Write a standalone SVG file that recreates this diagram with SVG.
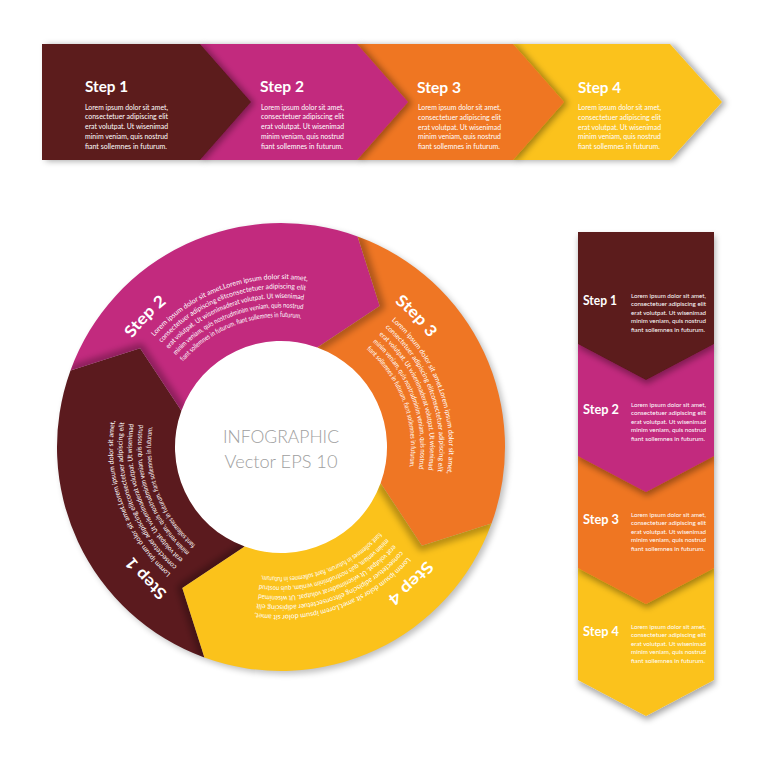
<svg xmlns="http://www.w3.org/2000/svg" xmlns:xlink="http://www.w3.org/1999/xlink" width="768" height="768" viewBox="0 0 768 768">
<style>
.c1{fill:#5b1a1e}.c2{fill:#c22a7e}.c3{fill:#ef7624}.c4{fill:#fbc21b}
.lb{font-family:Lato,"Liberation Sans",sans-serif;font-weight:700;fill:#fff}
.tx{font-family:Lato,"Liberation Sans",sans-serif;font-weight:400;fill:#fff}
.hl{font-size:16px}.ht{font-size:7px}
.vl{font-size:14px}.vt{font-size:6.3px}
.rl{font-size:16px}.rt{font-size:7px}
.ctr{font-family:Lato,"Liberation Sans",sans-serif;font-weight:300;font-size:17px;fill:#9e9e9e;text-anchor:middle}
.sh{fill:none;stroke:#000;stroke-width:10;stroke-opacity:0.28;stroke-linejoin:round}
</style>
<defs>
<filter id="dsx" x="-20%" y="-20%" width="150%" height="150%"><feDropShadow dx="4" dy="1" stdDeviation="3" flood-color="#000" flood-opacity="0.35"/></filter>
<filter id="dsy" x="-20%" y="-20%" width="150%" height="150%"><feDropShadow dx="1" dy="4" stdDeviation="3" flood-color="#000" flood-opacity="0.35"/></filter>
<filter id="bl" x="-20%" y="-20%" width="140%" height="140%"><feGaussianBlur stdDeviation="3"/></filter>
<path id="seg1" d="M204.4 657.5 A224 224 0 0 1 70.5 370.4 L140.1 348.3 L181.4 410.7 A106 106 0 0 0 244.7 546.6 L182.3 587.9 Z"/>
<path id="seg2" d="M70.5 370.4 A224 224 0 0 1 357.6 236.5 L379.7 306.1 L317.3 347.4 A106 106 0 0 0 181.4 410.7 L140.1 348.3 Z"/>
<path id="seg3" d="M357.6 236.5 A224 224 0 0 1 491.5 523.6 L421.9 545.7 L380.6 483.3 A106 106 0 0 0 317.3 347.4 L379.7 306.1 Z"/>
<path id="seg4" d="M491.5 523.6 A224 224 0 0 1 204.4 657.5 L182.3 587.9 L244.7 546.6 A106 106 0 0 0 380.6 483.3 L421.9 545.7 Z"/>
<clipPath id="cl1"><use xlink:href="#seg1" href="#seg1"/></clipPath>
<clipPath id="cl2"><use xlink:href="#seg2" href="#seg2"/></clipPath>
<clipPath id="cl3"><use xlink:href="#seg3" href="#seg3"/></clipPath>
<clipPath id="cl4"><use xlink:href="#seg4" href="#seg4"/></clipPath>
<path id="r184" d="M465 447 A184 184 0 0 1 97 447 A184 184 0 0 1 465 447 A184 184 0 0 1 97 447 A184 184 0 0 1 465 447"/>
<path id="r168" d="M449 447 A168 168 0 0 1 113 447 A168 168 0 0 1 449 447 A168 168 0 0 1 113 447 A168 168 0 0 1 449 447"/>
<path id="r158" d="M439.5 447 A158.5 158.5 0 0 1 122.5 447 A158.5 158.5 0 0 1 439.5 447 A158.5 158.5 0 0 1 122.5 447 A158.5 158.5 0 0 1 439.5 447"/>
<path id="r149" d="M430 447 A149 149 0 0 1 132 447 A149 149 0 0 1 430 447 A149 149 0 0 1 132 447 A149 149 0 0 1 430 447"/>
<path id="r139" d="M420.5 447 A139.5 139.5 0 0 1 141.5 447 A139.5 139.5 0 0 1 420.5 447 A139.5 139.5 0 0 1 141.5 447 A139.5 139.5 0 0 1 420.5 447"/>
<path id="r130" d="M411 447 A130 130 0 0 1 151 447 A130 130 0 0 1 411 447 A130 130 0 0 1 151 447 A130 130 0 0 1 411 447"/>
</defs>
<rect width="768" height="768" fill="#fff"/>

<!-- Horizontal banner (drawn right to left so each tip shadows the next) -->
<g id="top-step4" filter="url(#dsx)">
<path class="c4" d="M513 44 H670 L722 102 L670 160 H513 Z"/>
</g>
<g id="top-step3" filter="url(#dsx)">
<path class="c3" d="M357 44 H513 L564 102 L513 160 H357 Z"/>
</g>
<g id="top-step2" filter="url(#dsx)">
<path class="c2" d="M200 44 H357 L408 102 L357 160 H200 Z"/>
</g>
<g id="top-step1" filter="url(#dsx)">
<path class="c1" d="M42 44 H200 L251 102 L200 160 H42 Z"/>
</g>
<g id="top-texts">
<g id="top-step1-text">
<text class="lb hl" x="85" y="92" textLength="43" lengthAdjust="spacingAndGlyphs">Step 1</text>
<text class="tx ht" x="85" y="109.5" textLength="83" lengthAdjust="spacingAndGlyphs">Lorem ipsum dolor sit amet,</text>
<text class="tx ht" x="85" y="119.2" textLength="83" lengthAdjust="spacingAndGlyphs">consectetuer adipiscing elit</text>
<text class="tx ht" x="85" y="129" textLength="83" lengthAdjust="spacingAndGlyphs">erat volutpat. Ut wisenimad</text>
<text class="tx ht" x="85" y="138.7" textLength="83" lengthAdjust="spacingAndGlyphs">minim veniam, quis nostrud</text>
<text class="tx ht" x="85" y="148.5" textLength="82" lengthAdjust="spacingAndGlyphs">fiant sollemnes in futurum.</text>
</g>
<g id="top-step2-text">
<text class="lb hl" x="260" y="92" textLength="44" lengthAdjust="spacingAndGlyphs">Step 2</text>
<text class="tx ht" x="261" y="109.5" textLength="83" lengthAdjust="spacingAndGlyphs">Lorem ipsum dolor sit amet,</text>
<text class="tx ht" x="261" y="119.2" textLength="83" lengthAdjust="spacingAndGlyphs">consectetuer adipiscing elit</text>
<text class="tx ht" x="261" y="129" textLength="83" lengthAdjust="spacingAndGlyphs">erat volutpat. Ut wisenimad</text>
<text class="tx ht" x="261" y="138.7" textLength="83" lengthAdjust="spacingAndGlyphs">minim veniam, quis nostrud</text>
<text class="tx ht" x="261" y="148.5" textLength="82" lengthAdjust="spacingAndGlyphs">fiant sollemnes in futurum.</text>
</g>
<g id="top-step3-text">
<text class="lb hl" x="417" y="93" textLength="44" lengthAdjust="spacingAndGlyphs">Step 3</text>
<text class="tx ht" x="418" y="110" textLength="83" lengthAdjust="spacingAndGlyphs">Lorem ipsum dolor sit amet,</text>
<text class="tx ht" x="418" y="119.7" textLength="83" lengthAdjust="spacingAndGlyphs">consectetuer adipiscing elit</text>
<text class="tx ht" x="418" y="129.5" textLength="83" lengthAdjust="spacingAndGlyphs">erat volutpat. Ut wisenimad</text>
<text class="tx ht" x="418" y="139.2" textLength="83" lengthAdjust="spacingAndGlyphs">minim veniam, quis nostrud</text>
<text class="tx ht" x="418" y="149" textLength="82" lengthAdjust="spacingAndGlyphs">fiant sollemnes in futurum.</text>
</g>
<g id="top-step4-text">
<text class="lb hl" x="578" y="93" textLength="43" lengthAdjust="spacingAndGlyphs">Step 4</text>
<text class="tx ht" x="578" y="110" textLength="83" lengthAdjust="spacingAndGlyphs">Lorem ipsum dolor sit amet,</text>
<text class="tx ht" x="578" y="119.7" textLength="83" lengthAdjust="spacingAndGlyphs">consectetuer adipiscing elit</text>
<text class="tx ht" x="578" y="129.5" textLength="83" lengthAdjust="spacingAndGlyphs">erat volutpat. Ut wisenimad</text>
<text class="tx ht" x="578" y="139.2" textLength="83" lengthAdjust="spacingAndGlyphs">minim veniam, quis nostrud</text>
<text class="tx ht" x="578" y="149" textLength="82" lengthAdjust="spacingAndGlyphs">fiant sollemnes in futurum.</text>
</g>
</g>

<!-- Ring -->
<circle cx="284" cy="450" r="224" fill="#000" opacity="0.25" filter="url(#bl)"/>
<circle cx="281" cy="447" r="107" fill="#fff"/>
<g id="ring-step1"><use class="c1" xlink:href="#seg1" href="#seg1"/></g>
<g id="ring-step2"><use class="c2" xlink:href="#seg2" href="#seg2"/></g>
<g id="ring-step3"><use class="c3" xlink:href="#seg3" href="#seg3"/></g>
<g id="ring-step4"><use class="c4" xlink:href="#seg4" href="#seg4"/></g>
<g id="ring-shadows">
<g clip-path="url(#cl2)"><polyline class="sh" filter="url(#bl)" points="70.5,370.4 140.1,348.3 181.4,410.7"/></g>
<g clip-path="url(#cl3)"><polyline class="sh" filter="url(#bl)" points="357.6,236.5 379.7,306.1 317.3,347.4"/></g>
<g clip-path="url(#cl4)"><polyline class="sh" filter="url(#bl)" points="491.5,523.6 421.9,545.7 380.6,483.3"/></g>
<g clip-path="url(#cl1)"><polyline class="sh" filter="url(#bl)" points="204.4,657.5 182.3,587.9 244.7,546.6"/></g>
</g>
<g id="ring-step1-text">
<text class="lb rl"><textPath xlink:href="#r184" href="#r184" startOffset="411" textLength="50" lengthAdjust="spacingAndGlyphs">Step 1</textPath></text>
<text class="tx rt"><textPath xlink:href="#r168" href="#r168" startOffset="384.1" textLength="170" lengthAdjust="spacingAndGlyphs">Lorem ipsum dolor sit amet,Lorem ipsum dolor sit amet,</textPath></text>
<text class="tx rt"><textPath xlink:href="#r158" href="#r158" startOffset="362.4" textLength="160" lengthAdjust="spacingAndGlyphs">consectetuer adipiscing elitconsectetuer adipiscing elit</textPath></text>
<text class="tx rt"><textPath xlink:href="#r149" href="#r149" startOffset="340.7" textLength="150" lengthAdjust="spacingAndGlyphs">erat volutpat. Ut wisenimaderat volutpat. Ut wisenimad</textPath></text>
<text class="tx rt"><textPath xlink:href="#r139" href="#r139" startOffset="318.9" textLength="141" lengthAdjust="spacingAndGlyphs">minim veniam, quis nostrudminim veniam, quis nostrud</textPath></text>
<text class="tx rt"><textPath xlink:href="#r130" href="#r130" startOffset="297.2" textLength="131" lengthAdjust="spacingAndGlyphs">fiant sollemnes in futurum. fiant sollemnes in futurum.</textPath></text>
</g>
<g id="ring-step2-text">
<text class="lb rl"><textPath xlink:href="#r184" href="#r184" startOffset="693.7" textLength="50" lengthAdjust="spacingAndGlyphs">Step 2</textPath></text>
<text class="tx rt"><textPath xlink:href="#r168" href="#r168" startOffset="648" textLength="170" lengthAdjust="spacingAndGlyphs">Lorem ipsum dolor sit amet,Lorem ipsum dolor sit amet,</textPath></text>
<text class="tx rt"><textPath xlink:href="#r158" href="#r158" startOffset="611.4" textLength="160" lengthAdjust="spacingAndGlyphs">consectetuer adipiscing elitconsectetuer adipiscing elit</textPath></text>
<text class="tx rt"><textPath xlink:href="#r149" href="#r149" startOffset="574.7" textLength="150" lengthAdjust="spacingAndGlyphs">erat volutpat. Ut wisenimaderat volutpat. Ut wisenimad</textPath></text>
<text class="tx rt"><textPath xlink:href="#r139" href="#r139" startOffset="538.1" textLength="141" lengthAdjust="spacingAndGlyphs">minim veniam, quis nostrudminim veniam, quis nostrud</textPath></text>
<text class="tx rt"><textPath xlink:href="#r130" href="#r130" startOffset="501.4" textLength="131" lengthAdjust="spacingAndGlyphs">fiant sollemnes in futurum. fiant sollemnes in futurum.</textPath></text>
</g>
<g id="ring-step3-text">
<text class="lb rl"><textPath xlink:href="#r184" href="#r184" startOffset="989.1" textLength="50" lengthAdjust="spacingAndGlyphs">Step 3</textPath></text>
<text class="tx rt"><textPath xlink:href="#r168" href="#r168" startOffset="911.9" textLength="170" lengthAdjust="spacingAndGlyphs">Lorem ipsum dolor sit amet,Lorem ipsum dolor sit amet,</textPath></text>
<text class="tx rt"><textPath xlink:href="#r158" href="#r158" startOffset="860.3" textLength="160" lengthAdjust="spacingAndGlyphs">consectetuer adipiscing elitconsectetuer adipiscing elit</textPath></text>
<text class="tx rt"><textPath xlink:href="#r149" href="#r149" startOffset="808.8" textLength="150" lengthAdjust="spacingAndGlyphs">erat volutpat. Ut wisenimaderat volutpat. Ut wisenimad</textPath></text>
<text class="tx rt"><textPath xlink:href="#r139" href="#r139" startOffset="757.2" textLength="141" lengthAdjust="spacingAndGlyphs">minim veniam, quis nostrudminim veniam, quis nostrud</textPath></text>
<text class="tx rt"><textPath xlink:href="#r130" href="#r130" startOffset="705.6" textLength="131" lengthAdjust="spacingAndGlyphs">fiant sollemnes in futurum. fiant sollemnes in futurum.</textPath></text>
</g>
<g id="ring-step4-text">
<text class="lb rl"><textPath xlink:href="#r184" href="#r184" startOffset="122" textLength="54" lengthAdjust="spacingAndGlyphs">Step 4</textPath></text>
<text class="tx rt"><textPath xlink:href="#r168" href="#r168" startOffset="120.2" textLength="170" lengthAdjust="spacingAndGlyphs">Lorem ipsum dolor sit amet,Lorem ipsum dolor sit amet,</textPath></text>
<text class="tx rt"><textPath xlink:href="#r158" href="#r158" startOffset="113.4" textLength="160" lengthAdjust="spacingAndGlyphs">consectetuer adipiscing elitconsectetuer adipiscing elit</textPath></text>
<text class="tx rt"><textPath xlink:href="#r149" href="#r149" startOffset="106.6" textLength="150" lengthAdjust="spacingAndGlyphs">erat volutpat. Ut wisenimaderat volutpat. Ut wisenimad</textPath></text>
<text class="tx rt"><textPath xlink:href="#r139" href="#r139" startOffset="99.8" textLength="141" lengthAdjust="spacingAndGlyphs">minim veniam, quis nostrudminim veniam, quis nostrud</textPath></text>
<text class="tx rt"><textPath xlink:href="#r130" href="#r130" startOffset="93" textLength="131" lengthAdjust="spacingAndGlyphs">fiant sollemnes in futurum. fiant sollemnes in futurum.</textPath></text>
</g>
<g id="center-label">
<text class="ctr" x="281" y="443" textLength="116" lengthAdjust="spacingAndGlyphs">INFOGRAPHIC</text>
<text class="ctr" x="281" y="468" textLength="113" lengthAdjust="spacingAndGlyphs">Vector EPS 10</text>
</g>

<!-- Vertical banner (drawn bottom to top so each tip shadows the next) -->
<g id="side-step4" filter="url(#dsy)">
<path class="c4" d="M578 568 H714 V680 L646 716 L578 680 Z"/>
</g>
<g id="side-step3" filter="url(#dsy)">
<path class="c3" d="M578 456 H714 V568 L646 604 L578 568 Z"/>
</g>
<g id="side-step2" filter="url(#dsy)">
<path class="c2" d="M578 344 H714 V456 L646 492 L578 456 Z"/>
</g>
<g id="side-step1" filter="url(#dsy)">
<path class="c1" d="M578 232 H714 V344 L646 380 L578 344 Z"/>
</g>
<g id="side-texts">
<g id="side-step1-text">
<text class="lb vl" x="583" y="305" textLength="34" lengthAdjust="spacingAndGlyphs">Step 1</text>
<text class="tx vt" x="631" y="298" textLength="75" lengthAdjust="spacingAndGlyphs">Lorem ipsum dolor sit amet,</text>
<text class="tx vt" x="631" y="306.4" textLength="75" lengthAdjust="spacingAndGlyphs">consectetuer adipiscing elit</text>
<text class="tx vt" x="631" y="314.8" textLength="75" lengthAdjust="spacingAndGlyphs">erat volutpat. Ut wisenimad</text>
<text class="tx vt" x="631" y="323.2" textLength="75" lengthAdjust="spacingAndGlyphs">minim veniam, quis nostrud</text>
<text class="tx vt" x="631" y="331.6" textLength="74" lengthAdjust="spacingAndGlyphs">fiant sollemnes in futurum.</text>
</g>
<g id="side-step2-text">
<text class="lb vl" x="583" y="414" textLength="36" lengthAdjust="spacingAndGlyphs">Step 2</text>
<text class="tx vt" x="631" y="407" textLength="75" lengthAdjust="spacingAndGlyphs">Lorem ipsum dolor sit amet,</text>
<text class="tx vt" x="631" y="415.4" textLength="75" lengthAdjust="spacingAndGlyphs">consectetuer adipiscing elit</text>
<text class="tx vt" x="631" y="423.8" textLength="75" lengthAdjust="spacingAndGlyphs">erat volutpat. Ut wisenimad</text>
<text class="tx vt" x="631" y="432.2" textLength="75" lengthAdjust="spacingAndGlyphs">minim veniam, quis nostrud</text>
<text class="tx vt" x="631" y="440.6" textLength="74" lengthAdjust="spacingAndGlyphs">fiant sollemnes in futurum.</text>
</g>
<g id="side-step3-text">
<text class="lb vl" x="583" y="524" textLength="36" lengthAdjust="spacingAndGlyphs">Step 3</text>
<text class="tx vt" x="631" y="517" textLength="75" lengthAdjust="spacingAndGlyphs">Lorem ipsum dolor sit amet,</text>
<text class="tx vt" x="631" y="525.4" textLength="75" lengthAdjust="spacingAndGlyphs">consectetuer adipiscing elit</text>
<text class="tx vt" x="631" y="533.8" textLength="75" lengthAdjust="spacingAndGlyphs">erat volutpat. Ut wisenimad</text>
<text class="tx vt" x="631" y="542.2" textLength="75" lengthAdjust="spacingAndGlyphs">minim veniam, quis nostrud</text>
<text class="tx vt" x="631" y="550.6" textLength="74" lengthAdjust="spacingAndGlyphs">fiant sollemnes in futurum.</text>
</g>
<g id="side-step4-text">
<text class="lb vl" x="583" y="636" textLength="36" lengthAdjust="spacingAndGlyphs">Step 4</text>
<text class="tx vt" x="631" y="628.5" textLength="75" lengthAdjust="spacingAndGlyphs">Lorem ipsum dolor sit amet,</text>
<text class="tx vt" x="631" y="637.1" textLength="75" lengthAdjust="spacingAndGlyphs">consectetuer adipiscing elit</text>
<text class="tx vt" x="631" y="645.7" textLength="75" lengthAdjust="spacingAndGlyphs">erat volutpat. Ut wisenimad</text>
<text class="tx vt" x="631" y="654.3" textLength="75" lengthAdjust="spacingAndGlyphs">minim veniam, quis nostrud</text>
<text class="tx vt" x="631" y="662.9" textLength="74" lengthAdjust="spacingAndGlyphs">fiant sollemnes in futurum.</text>
</g>
</g>
</svg>
